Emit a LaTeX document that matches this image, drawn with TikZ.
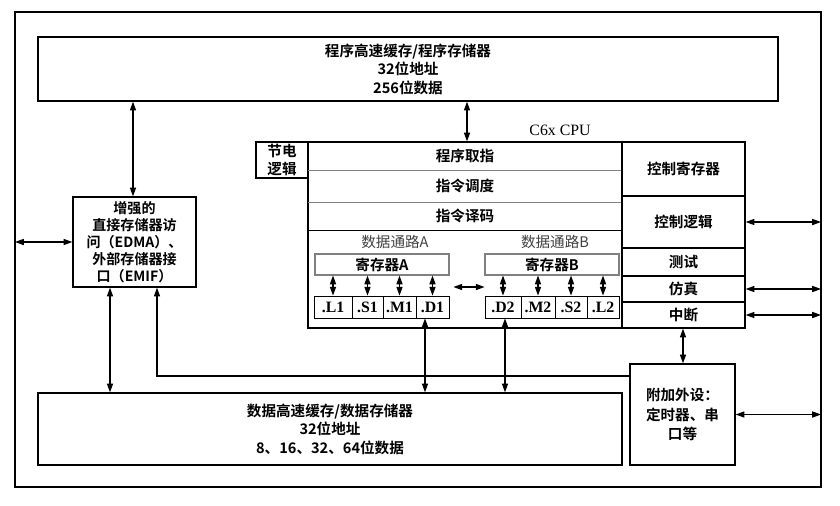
\documentclass[tikz,border=0pt]{standalone}
\usepackage{fontspec}
\setmainfont{Noto Sans CJK SC}[BoldFont={Noto Sans CJK SC Bold}]
\newfontfamily\latin{Liberation Serif}
\usetikzlibrary{arrows.meta,fit}
\begin{document}
\begin{tikzpicture}[x=0.02cm,y=-0.02cm,
  box/.style={draw,line width=0.8pt,inner sep=0pt},
  row/.style={box,draw=gray,line width=0.6pt},
  txt/.style={inner sep=0pt,align=center,font=\fontsize{8.3}{10.5}\selectfont\bfseries},
  lab/.style={font=\fontsize{8.3}{10}\selectfont,inner sep=0pt},
  dbl/.style={{Triangle[length=5pt,width=3.5pt]}-{Triangle[length=5pt,width=3.5pt]},line width=0.6pt},
  one/.style={-{Triangle[length=5pt,width=3.5pt]},line width=0.6pt}]
\useasboundingbox (0,0) rectangle (840,505);
% outer frame
\draw[line width=0.8pt] (15,12) rectangle (821,487);
\coordinate (busL) at (15,242);
\coordinate (busR) at (821,242);
% memories
\node[box,fit={(38,37) (778,101)}] (prog) {};
\node[txt] at (prog) {程序高速缓存/程序存储器\\32位地址\\256位数据};
\node[box,fit={(38,393) (622,465)}] (data) {};
\node[txt] at (data) {数据高速缓存/数据存储器\\32位地址\\8、16、32、64位数据};
% EDMA / EMIF
\node[box,fit={(73,197) (196,287)}] (edma) {};
\node[txt,font=\fontsize{8}{9.6}\selectfont\bfseries] at (edma) {增强的\\直接存储器访\\问（EDMA）、\\外部存储器接\\口（EMIF）};
% CPU
\node[lab,font=\latin\fontsize{9}{10}\selectfont] (cpu) at (560,130) {C6x CPU};
\node[box,fit={(256,142) (308,178)}] (save) {};
\node[txt,font=\fontsize{8.3}{10}\selectfont\bfseries] at (save) {节电\\逻辑};
\node[box,fit={(308,142) (622,328)}] (core) {};
\node[inner sep=0pt,fit={(308,142) (622,170)}] (fetch) {};
\node[inner sep=0pt,fit={(308,170) (622,202)}] (disp) {};
\node[inner sep=0pt,fit={(308,202) (622,230)}] (dec) {};
\node[txt] at (fetch) {程序取指};
\node[txt] at (disp) {指令调度};
\node[txt] at (dec) {指令译码};
\draw[gray,line width=0.6pt] (fetch.south west) -- (fetch.south east);
\draw[gray,line width=0.6pt] (disp.south west) -- (disp.south east);
\draw[line width=0.6pt] (dec.south west) -- (dec.south east);
\node[lab,text=black!75] (pathA) at (395,242) {数据通路A};
\node[lab,text=black!75] (pathB) at (555,242) {数据通路B};
\node[row,fit={(315,254) (449,275)}] (regA) {};
\node[txt] at (regA) {寄存器A};
\node[row,fit={(485,254) (619,275)}] (regB) {};
\node[txt] at (regB) {寄存器B};
\foreach \u/\a/\b in {L1/314/352,S1/352/383,M1/383/416,D1/416/449,D2/485/521,M2/521/555,S2/555/587,L2/587/619}{
  \node[box,line width=0.5pt,fit={(\a,296) (\b,318)}] (\u) {};
  \node[txt,font=\latin\fontsize{9}{10}\selectfont\bfseries] at (\u) {.\u};
  \draw[dbl] (\u.north) -- ++(0,-20);
}
\draw[dbl] (D1.east |- 0,287) ++(4,0) coordinate (xa) -- (D2.west |- xa);
% control column
\node[box,fit={(622,142) (745,196)}] (creg) {};
\node[box,fit={(622,196) (745,248)}] (clog) {};
\node[box,fit={(622,248) (745,276)}] (test) {};
\node[box,fit={(622,276) (745,302)}] (emu) {};
\node[box,fit={(622,302) (745,328)}] (intr) {};
\node[txt] at (creg) {控制寄存器};
\node[txt] at (clog) {控制逻辑};
\node[txt] at (test) {测试};
\node[txt] at (emu) {仿真};
\node[txt] at (intr) {中断};
\node[box,fit={(630,364) (735,465)}] (peri) {};
\node[txt,font=\fontsize{8.3}{11}\selectfont\bfseries] at (peri) {附加外设：\\定时器、串\\口等};
% connectors
\draw[dbl] (prog.south -| 133,0) -- (edma.north -| 133,0);
\draw[dbl] (prog.south -| 467,0) -- (core.north -| 467,0);
\draw[dbl] (busL |- edma.west) -- (edma.west);
\draw[dbl] (edma.south -| 110,0) -- (data.north -| 110,0);
\draw[one] (peri.west |- 0,376) -- (157,376) -- (edma.south -| 157,0);
\draw[dbl] (D1.south -| 425,0) -- (data.north -| 425,0);
\draw[dbl] (D2.south -| 505,0) -- (data.north -| 505,0);
\draw[dbl] (intr.south -| 683,0) -- (peri.north -| 683,0);
\draw[dbl] (clog.east) -- (busR |- clog.east);
\draw[dbl] (emu.east) -- (busR |- emu.east);
\draw[dbl] (intr.east) -- (busR |- intr.east);
\draw[dbl] (peri.east) -- (busR |- peri.east);
\end{tikzpicture}
\end{document}
